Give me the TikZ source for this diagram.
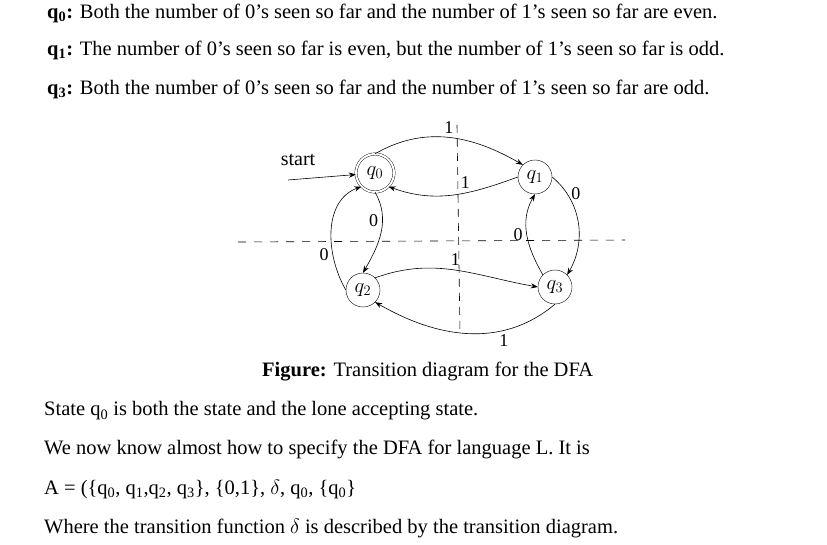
\documentclass[tikz,border=0pt]{standalone}
\usepackage{fontspec}
\setmainfont{Liberation Serif}
\usetikzlibrary{arrows.meta}
\begin{document}
\begin{tikzpicture}[x=1pt,y=-1pt,
  txt/.style={anchor=west,inner sep=0pt,font=\fontsize{20.5}{24}\selectfont},
  st/.style={circle,draw,minimum size=34pt,inner sep=0pt,font=\fontsize{20}{24}\selectfont},
  tr/.style={-{Stealth[length=7pt]},semithick},
  lab/.style={font=\fontsize{18}{20}\selectfont,inner sep=4pt}]
\useasboundingbox (0,0) rectangle (827,545);
\node[txt] (l1) at (47,13) {$\mathbf{q_0}$\textbf{:} Both the number of 0’s seen so far and the number of 1’s seen so far are even.};
\node[txt] (l2) at (47,50) {$\mathbf{q_1}$\textbf{:} The number of 0’s seen so far is even, but the number of 1’s seen so far is odd.};
\node[txt] (l3) at (47,89) {$\mathbf{q_3}$\textbf{:} Both the number of 0’s seen so far and the number of 1’s seen so far are odd.};
\node[txt] (cap) at (262,372) {\textbf{Figure:} Transition diagram for the DFA};
\node[txt] (l4) at (44,411) {State q\textsubscript{0} is both the state and the lone accepting state.};
\node[txt] (l5) at (44,449) {We now know almost how to specify the DFA for language L. It is};
\node[txt] (l6) at (44,489) {A = (\{q\textsubscript{0}, q\textsubscript{1},q\textsubscript{2}, q\textsubscript{3}\}, \{0,1\}, $\delta$, q\textsubscript{0}, \{q\textsubscript{0}\}};
\node[txt] (l7) at (44,528) {Where the transition function $\delta$ is described by the transition diagram.};
% diagram
\draw[dashed,semithick,dash pattern=on 8pt off 6pt] (457,125) -- (460,335);
\draw[dashed,semithick,dash pattern=on 8pt off 8pt] (238,242) -- (625,240);
\node[st,double,double distance=2pt,minimum size=38pt] (q0) at (375,173) {$q_0$};
\node[st] (q1) at (535,177) {$q_1$};
\node[st] (q2) at (363,290) {$q_2$};
\node[st] (q3) at (555,287) {$q_3$};
\node[font=\fontsize{20}{24}\selectfont] (s) at (298,160) {start};
\coordinate (s0) at (288,180);
\draw[tr] (s0) -- (q0);
\draw[tr] (q0.north) to[out=30,in=150] node[lab,above]{1} (q1.north west);
\draw[tr] (q1.west) to[out=200,in=-20] node[lab,above,pos=0.4]{1} (q0.south east);
\draw[tr] (q2.west) to[out=120,in=200] node[lab,left,pos=0.3]{0} (q0.south west);
\draw[tr] (q0.south) to[out=-60,in=60] node[lab,left,pos=0.35]{0} (q2.north);
\draw[tr] (q2.north east) to[out=20,in=170] node[lab,above]{1} (q3.west);
\draw[tr] (q3.south) to[out=-140,in=-30] node[lab,below,pos=0.3]{1} (q2.south east);
\draw[tr] (q1.east) to[out=-40,in=60] node[lab,right,pos=0.2]{0} (q3.north east);
\draw[tr] (q3.north west) to[out=120,in=-120] node[lab,left,pos=0.5]{0} (q1.south);
\end{tikzpicture}
\end{document}
